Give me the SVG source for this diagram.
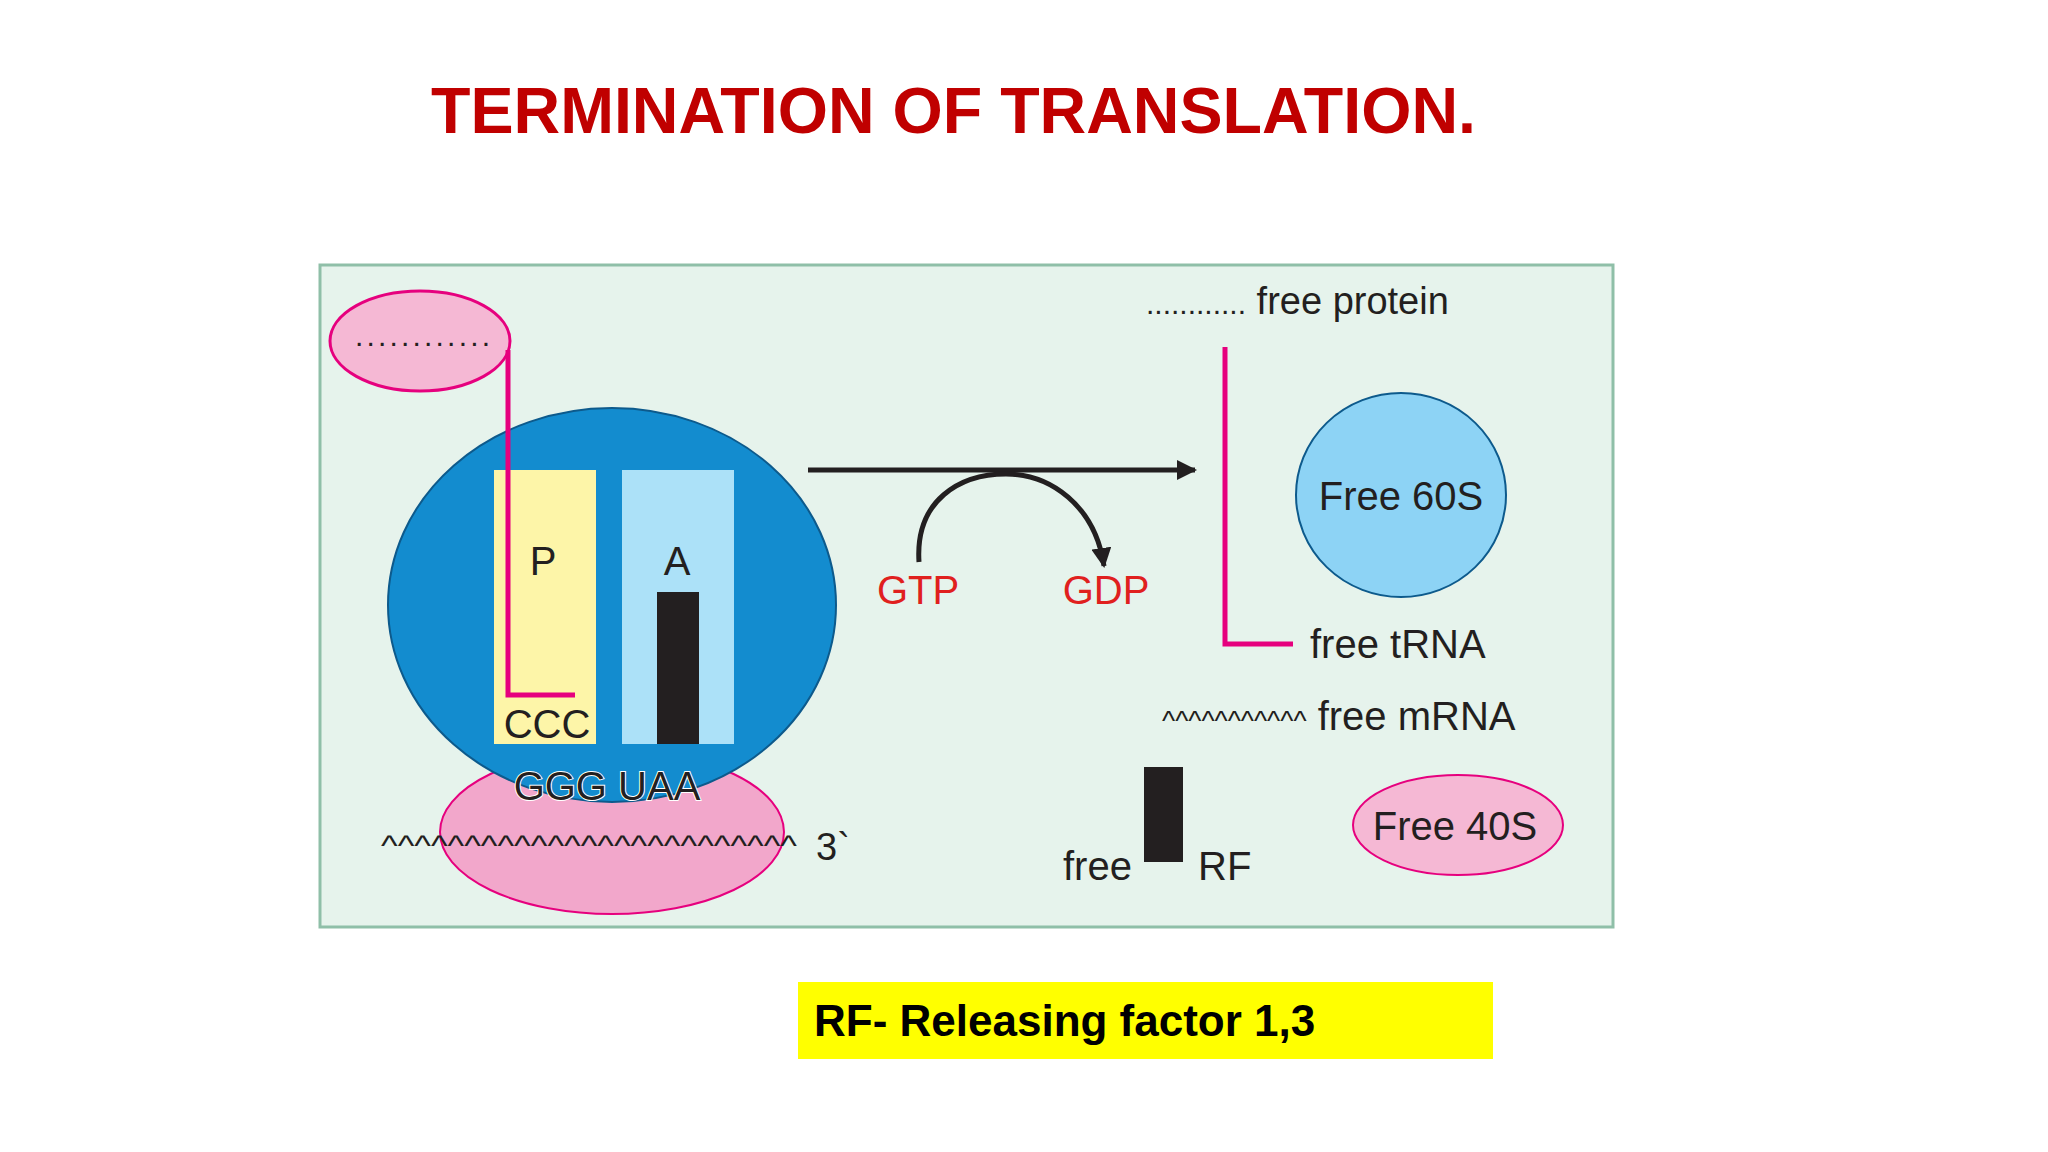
<svg xmlns="http://www.w3.org/2000/svg" width="2048" height="1152" viewBox="0 0 2048 1152">
<style>
.t{font-family:"Liberation Sans",Arial,sans-serif;fill:#231f20}
.r{font-family:"Liberation Sans",Arial,sans-serif;fill:#e0201e}
.mg{stroke:#e6007e;stroke-width:5;fill:none}
</style>
<defs>
<marker id="ah" viewBox="0 0 10 10" refX="9" refY="5" markerWidth="4" markerHeight="4" orient="auto"><path d="M0,0L10,5L0,10z" fill="#231f20"/></marker>
</defs>
<rect width="2048" height="1152" fill="#fff"/>
<text x="431" y="133" font-family="Liberation Sans,Arial,sans-serif" font-weight="bold" font-size="64" fill="#c00000" textLength="1045" lengthAdjust="spacingAndGlyphs">TERMINATION OF TRANSLATION.</text>
<rect x="320" y="265" width="1293" height="662" fill="#e6f3ec" stroke="#8fbfa8" stroke-width="3"/>
<g id="ribosome">
<ellipse cx="612" cy="832" rx="172" ry="82" fill="#f2a7cb" stroke="#e6007e" stroke-width="2"/>
<ellipse cx="612" cy="605" rx="224" ry="197" fill="#138ccf" stroke="#0d5a8c" stroke-width="2"/>
<rect x="494" y="470" width="102" height="274" fill="#fdf5a8"/>
<rect x="622" y="470" width="112" height="274" fill="#ace1f8"/>
<rect x="657" y="592" width="42" height="152" fill="#231f20"/>
<text class="t" x="543" y="575" font-size="40" text-anchor="middle">P</text>
<text class="t" x="677" y="575" font-size="40" text-anchor="middle">A</text>
<text class="t" x="547" y="738" font-size="40" text-anchor="middle">CCC</text>
<text x="607" y="800" font-family="Liberation Sans,Arial,sans-serif" font-size="40" text-anchor="middle" fill="#231f20" stroke="#fff" stroke-width="2" paint-order="stroke">GGG UAA</text>
<text class="t" x="381" y="856" font-size="30" textLength="416" lengthAdjust="spacingAndGlyphs">^^^^^^^^^^^^^^^^^^^^^^^^^</text>
<text class="t" x="816" y="860" font-size="38">3`</text>
</g>
<g id="peptide">
<ellipse cx="420" cy="341" rx="90" ry="50" fill="#f5b8d4" stroke="#e6007e" stroke-width="3"/>
<text class="t" x="355" y="346" font-size="30" textLength="135" lengthAdjust="spacing">............</text>
</g>
<g id="connectors">
<path class="mg" d="M508,350V695H575"/>
<path d="M808,470H1195" stroke="#231f20" stroke-width="5" fill="none" marker-end="url(#ah)"/>
<path d="M919,562C915,500 960,474 1006,474C1050,474 1095,505 1104,566" stroke="#231f20" stroke-width="5" fill="none" marker-end="url(#ah)"/>
<path class="mg" d="M1225,347V644H1293"/>
</g>
<g id="gtp"><text class="r" x="918" y="604" font-size="40" text-anchor="middle">GTP</text></g>
<g id="gdp"><text class="r" x="1106" y="604" font-size="40" text-anchor="middle">GDP</text></g>
<g id="protein"><text class="t" x="1146" y="314" font-size="38"><tspan font-size="30">............</tspan> free protein</text></g>
<g id="trna"><text class="t" x="1310" y="658" font-size="40">free tRNA</text></g>
<g id="s60"><ellipse cx="1401" cy="495" rx="105" ry="102" fill="#8dd3f5" stroke="#0d5a8c" stroke-width="2"/><text class="t" x="1401" y="510" font-size="40" text-anchor="middle">Free 60S</text></g>
<g id="mrna"><text class="t" x="1162" y="730" font-size="40"><tspan font-size="28">^^^^^^^^^^^</tspan> free mRNA</text></g>
<g id="rf"><rect x="1144" y="767" width="39" height="95" fill="#231f20"/><text class="t" x="1063" y="880" font-size="40">free</text><text class="t" x="1198" y="880" font-size="40">RF</text></g>
<g id="s40"><ellipse cx="1458" cy="825" rx="105" ry="50" fill="#f5b8d4" stroke="#e6007e" stroke-width="2"/><text class="t" x="1455" y="840" font-size="40" text-anchor="middle">Free 40S</text></g>
<g id="legend"><rect x="798" y="982" width="695" height="77" fill="#ffff00"/><text x="814" y="1036" font-family="Liberation Sans,Arial,sans-serif" font-weight="bold" font-size="44" fill="#000">RF- Releasing factor 1,3</text></g>
</svg>
